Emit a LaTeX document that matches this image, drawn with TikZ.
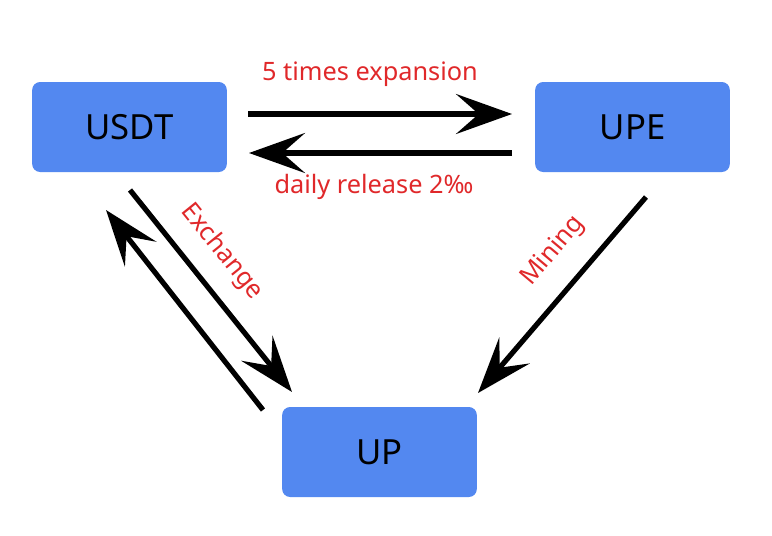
\documentclass[tikz,border=0pt]{standalone}
\usepackage{fontspec}
\setmainfont{Noto Sans}
\usetikzlibrary{arrows.meta}
\definecolor{boxblue}{HTML}{5388F0}
\definecolor{lab}{HTML}{E0282A}
\begin{document}
\begin{tikzpicture}[x=0.75pt,y=-0.75pt,
  box/.style={fill=boxblue,rounded corners=6pt,minimum width=146pt,minimum height=67.5pt,inner sep=0pt,font=\fontsize{26}{30}\selectfont},
  arr/.style={line width=3.9pt,-{Stealth[length=42pt,width=30pt,inset=17pt]}},
  lbl/.style={text=lab,font=\fontsize{19}{22}\selectfont}]
\useasboundingbox (0,0) rectangle (772,536);
\node[box] (usdt) at (129.5,127) {USDT};
\node[box] (upe) at (632.5,127) {UPE};
\node[box] (up) at (379.5,452) {UP};
\coordinate (a1) at (248,114); \coordinate (a2) at (512,114);
\coordinate (b1) at (512,153); \coordinate (b2) at (249,153);
\coordinate (c1) at (130,190); \coordinate (c2) at (292,392);
\coordinate (d1) at (263,410); \coordinate (d2) at (106,210);
\coordinate (e1) at (646,197); \coordinate (e2) at (478,393);
\draw[arr] (a1) -- (a2);
\draw[arr] (b1) -- (b2);
\draw[arr] (c1) -- (c2);
\draw[arr] (d1) -- (d2);
\draw[arr] (e1) -- (e2);
\node[lbl] (l1) at (370,74) {5 times expansion};
\node[lbl] (l2) at (374,187) {daily release 2‰};
\node[lbl,rotate=-51] (l3) at (222,252) {Exchange};
\node[lbl,rotate=50] (l4) at (553,251) {Mining};
\end{tikzpicture}
\end{document}
